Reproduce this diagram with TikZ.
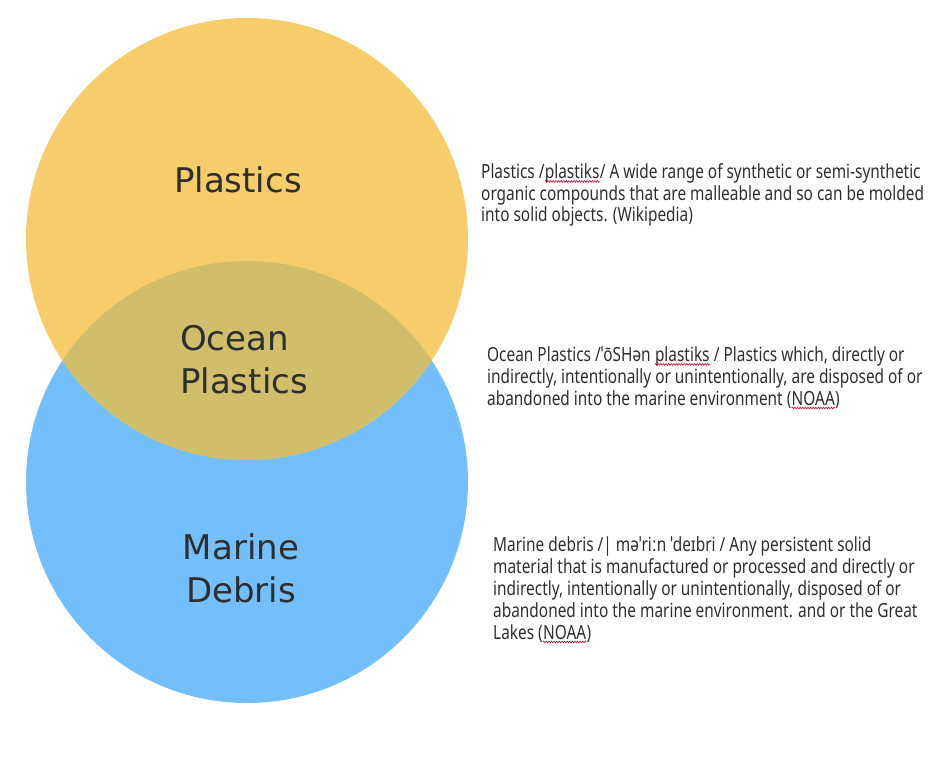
\documentclass[tikz,border=0pt]{standalone}
\usepackage{fontspec}
\usetikzlibrary{decorations.pathmorphing}
\setmainfont{DejaVu Sans}
\newfontfamily\deffont{Noto Sans}[FakeStretch=0.79]
\definecolor{plasticyellow}{HTML}{F6CD6A}
\definecolor{debrisblue}{HTML}{73BFFB}
\definecolor{oceanolive}{HTML}{D1BE6B}
\definecolor{labelgray}{HTML}{2E2E2E}
\definecolor{wavered}{HTML}{C8102E}
% wavy spell-check mark under a word
\newcommand\redwave[1]{\tikz[baseline=(w.base)]{\node[inner sep=0pt, outer sep=0pt] (w) {#1};
	\draw[wavered, line width=0.6pt, decorate, decoration={zigzag, amplitude=0.9pt, segment length=2.6pt}] ([yshift=-3pt]w.base west) -- ([yshift=-3pt]w.base east);}}
\tikzset{
  venn/.style={font=\fontsize{34}{43}\selectfont, text=labelgray, align=center, inner sep=0pt, anchor=base},
  defn/.style={font=\deffont\fontsize{19.5}{21.8}\selectfont, text=labelgray, align=left, inner sep=0pt, anchor=base west}
}
\begin{document}
\begin{tikzpicture}[x=1pt,y=-1pt]
	\useasboundingbox (0,0) rectangle (930,765);
	\fill[debrisblue] (247,482) circle (221);
	\fill[plasticyellow] (247,239) circle (221);
	\begin{scope}
		\clip (247,239) circle (221);
		\fill[oceanolive] (247,482) circle (221);
	\end{scope}
	% base anchor = last line
	\node[venn] (plastics) at (238,193) {Plastics};
	\node[venn, align=left, anchor=base west] (ocean) at (180,393) {Ocean\\Plastics};
	\node[venn] (debris) at (241,602) {Marine\\Debris};
	\node[defn] (plasticsdef) at (481,222) {Plastics /\redwave{plastiks}/ A wide range of synthetic or semi-synthetic\\organic compounds that are malleable and so can be molded\\into solid objects. (Wikipedia)};
	\node[defn] (oceandef) at (487,405) {Ocean Plastics /ˈōSHən \redwave{plastiks} / Plastics which, directly or\\indirectly, intentionally or unintentionally, are disposed of or\\abandoned into the marine environment (\redwave{NOAA})};
	\node[defn] (debrisdef) at (493,639) {Marine debris /| məˈriːn ˈdeɪbri / Any persistent solid\\material that is manufactured or processed and directly or\\indirectly, intentionally or unintentionally, disposed of or\\abandoned into the marine environment. and or the Great\\Lakes (\redwave{NOAA})};
\end{tikzpicture}
\end{document}
